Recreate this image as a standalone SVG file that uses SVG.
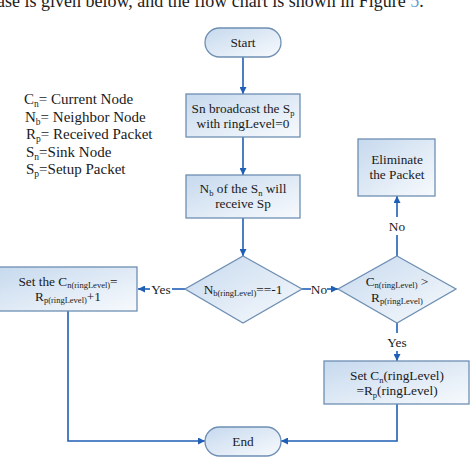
<svg xmlns="http://www.w3.org/2000/svg" width="474" height="474" viewBox="0 0 474 474">
<defs>
<linearGradient id="g" x1="0" y1="0" x2="1" y2="1">
<stop offset="0" stop-color="#c6d9ee"/>
<stop offset="0.6" stop-color="#e4edf7"/>
<stop offset="1" stop-color="#f7fafd"/>
</linearGradient>
<marker id="ah" viewBox="0 0 10 10" refX="10" refY="5" markerWidth="7" markerHeight="7" markerUnits="userSpaceOnUse" orient="auto">
<path d="M0,0 L10,5 L0,10 z" fill="#1f5fb5"/>
</marker>
<style>
.shape{fill:url(#g);stroke:#6e8fb3;stroke-width:1.3}
.t{font-family:'Liberation Serif','Times New Roman',serif;font-size:13.3px;fill:#1a1a1a;text-anchor:middle}
.lg{font-family:'Liberation Serif','Times New Roman',serif;font-size:15px;fill:#1a1a1a}
.s{font-size:8.5px}
.ls{font-size:9.5px}
.c{fill:none;stroke:#1f5fb5;stroke-width:1.6}
</style>
</defs>
<rect width="474" height="474" fill="#ffffff"/>
<text x="-3" y="7" style="font-family:'Liberation Serif',serif;font-size:18px;fill:#222">ase is given below, and the flow chart is shown in Figure <tspan fill="#6a9fd6">5</tspan>.</text>

<g id="legend" class="lg">
<text x="24" y="104">C<tspan class="ls" dy="3">n</tspan><tspan dy="-3">= Current Node</tspan></text>
<text x="25" y="122">N<tspan class="ls" dy="3">b</tspan><tspan dy="-3">= Neighbor Node</tspan></text>
<text x="26" y="139">R<tspan class="ls" dy="3">p</tspan><tspan dy="-3">= Received Packet</tspan></text>
<text x="26" y="157">S<tspan class="ls" dy="3">n</tspan><tspan dy="-3">=Sink Node</tspan></text>
<text x="26" y="174">S<tspan class="ls" dy="3">p</tspan><tspan dy="-3">=Setup Packet</tspan></text>
</g>

<g id="connectors">
<line class="c" x1="243" y1="57" x2="243" y2="94" marker-end="url(#ah)"/>
<line class="c" x1="243" y1="137" x2="243" y2="175" marker-end="url(#ah)"/>
<line class="c" x1="243" y1="218" x2="243" y2="256" marker-end="url(#ah)"/>
<line class="c" x1="185" y1="289" x2="172" y2="289"/>
<line class="c" x1="150" y1="289" x2="138" y2="289" marker-end="url(#ah)"/>
<line class="c" x1="302" y1="289" x2="311" y2="289"/>
<line class="c" x1="327" y1="289" x2="338" y2="289" marker-end="url(#ah)"/>
<line class="c" x1="397" y1="256" x2="397" y2="235"/>
<line class="c" x1="397" y1="217" x2="397" y2="196" marker-end="url(#ah)"/>
<line class="c" x1="397" y1="323" x2="397" y2="333"/>
<line class="c" x1="397" y1="351" x2="397" y2="361" marker-end="url(#ah)"/>
<polyline class="c" points="68,311 68,441 205,441" marker-end="url(#ah)"/>
<polyline class="c" points="397,404 397,441 281,441" marker-end="url(#ah)"/>
<text class="t" x="161" y="294">Yes</text>
<text class="t" x="319" y="294">No</text>
<text class="t" x="397" y="231">No</text>
<text class="t" x="397" y="347">Yes</text>
</g>

<g id="start">
<rect class="shape" x="205" y="28" width="76" height="29" rx="14.5"/>
<text class="t" x="243" y="47">Start</text>
</g>

<g id="broadcast">
<rect class="shape" x="186" y="94" width="114" height="43"/>
<text class="t" x="243" y="113">Sn broadcast the S<tspan class="s" dy="3">p</tspan></text>
<text class="t" x="243" y="128">with ringLevel=0</text>
</g>

<g id="receive">
<rect class="shape" x="186" y="175" width="114" height="43"/>
<text class="t" x="243" y="193">N<tspan class="s" dy="3">b</tspan><tspan dy="-3"> of the S</tspan><tspan class="s" dy="3">n</tspan><tspan dy="-3"> will</tspan></text>
<text class="t" x="243" y="208">receive Sp</text>
</g>

<g id="eliminate">
<rect class="shape" x="358" y="139" width="77" height="57"/>
<text class="t" x="397" y="164">Eliminate</text>
<text class="t" x="397" y="179">the Packet</text>
</g>

<g id="decision1">
<polygon class="shape" points="243,256 302,289 243,323 185,289"/>
<text class="t" x="243" y="294">N<tspan class="s" dy="2">b(ringLevel)</tspan><tspan dy="-2">==-1</tspan></text>
</g>

<g id="decision2">
<polygon class="shape" points="397,256 456,289 397,323 338,289"/>
<text class="t" x="397" y="286">C<tspan class="s" dy="2">n(ringLevel)</tspan><tspan dy="-2"> &gt;</tspan></text>
<text class="t" x="397" y="302">R<tspan class="s" dy="2">p(ringLevel)</tspan></text>
</g>

<g id="setleft">
<rect class="shape" x="-2" y="267" width="139" height="44"/>
<text class="t" x="68" y="286">Set the C<tspan class="s" dy="2">n(ringLevel)</tspan><tspan dy="-2">=</tspan></text>
<text class="t" x="68" y="301">R<tspan class="s" dy="2">p(ringLevel)</tspan><tspan dy="-2">+1</tspan></text>
</g>

<g id="setright">
<rect class="shape" x="324" y="361" width="145" height="43"/>
<text class="t" x="397" y="380">Set C<tspan class="s" dy="3">n</tspan><tspan dy="-3">(ringLevel)</tspan></text>
<text class="t" x="397" y="395">=R<tspan class="s" dy="3">p</tspan><tspan dy="-3">(ringLevel)</tspan></text>
</g>

<g id="end">
<rect class="shape" x="205" y="427" width="76" height="29" rx="14.5"/>
<text class="t" x="243" y="446">End</text>
</g>
</svg>
